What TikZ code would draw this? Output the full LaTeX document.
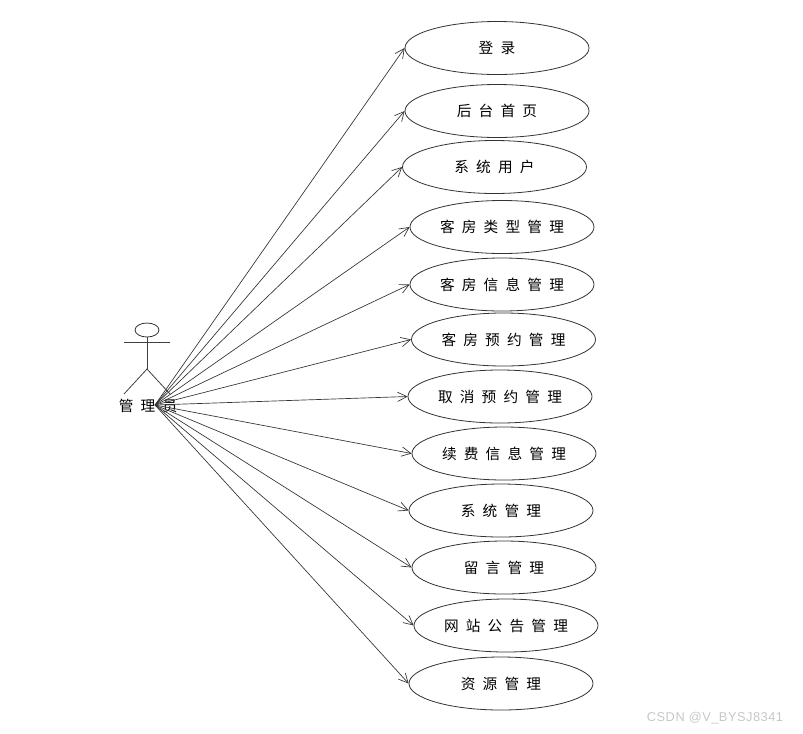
\documentclass[tikz,border=0pt]{standalone}
\usepackage{fontspec}
\newfontfamily\cjk[LetterSpace=49]{Noto Sans CJK SC}
\newfontfamily\markfont[LetterSpace=4]{Liberation Sans}
\usetikzlibrary{arrows.meta, shapes.geometric}

\begin{document}
\begin{tikzpicture}[
        x=0.75pt, y=-0.75pt,
        usecase/.style={draw=black!80, ellipse, line width=0.6pt, inner sep=0pt, minimum width=138pt, minimum height=39.75pt, font=\cjk\fontsize{11pt}{13pt}\selectfont},
        actorline/.style={draw=black!75, line width=0.6pt},
        arrow/.style={-{Straight Barb[length=7pt, width=7pt]}, draw=black!80, line width=0.5pt}
    ]
        \useasboundingbox (0,0) rectangle (803,733);

        % --- Use cases ---
        \foreach \name/\cx/\cy/\txt in {
            login/497/48/登录,
            home/497/111/后台首页,
            sysuser/494.5/167/系统用户,
            roomtype/502/227/客房类型管理,
            roominfo/502/284.5/客房信息管理,
            roombook/503.5/339.5/客房预约管理,
            cancel/500/396.5/取消预约管理,
            renew/504/453.5/续费信息管理,
            sysadmin/501/510.5/系统管理,
            message/504/567.5/留言管理,
            notice/506/625.5/网站公告管理,
            resource/501/683.5/资源管理} {
            \node[usecase] (\name) at (\cx,\cy) {\txt};
        }

        % --- Actor ---
        \node[draw=black!80, ellipse, line width=0.6pt, inner sep=0pt, minimum width=18pt, minimum height=10.5pt] (head) at (147,330) {};
        \coordinate (hip) at (147,369);
        \coordinate (armL) at (124,342);
        \coordinate (armR) at (170,342);
        \coordinate (footL) at (124,394);
        \coordinate (footR) at (170,394);
        \draw[actorline] (head.south) -- (hip);
        \draw[actorline] (armL) -- (armR);
        \draw[actorline] (footL) -- (hip) -- (footR);
        \node[font=\cjk\fontsize{11pt}{13pt}\selectfont] (admin) at (148,405.5) {管理员};

        % --- Connectors ---
        \coordinate (hub) at (155,405);
        \foreach \name in {login,home,sysuser,roomtype,roominfo,roombook,cancel,renew,sysadmin,message,notice,resource} {
            \draw[arrow] (hub) -- (\name.west);
        }

        % watermark
        \node[font=\markfont\fontsize{9.6pt}{11pt}\selectfont, text=black!22] (mark) at (715,718.5) {CSDN @V\_BYSJ8341};
    \end{tikzpicture}
\end{document}
